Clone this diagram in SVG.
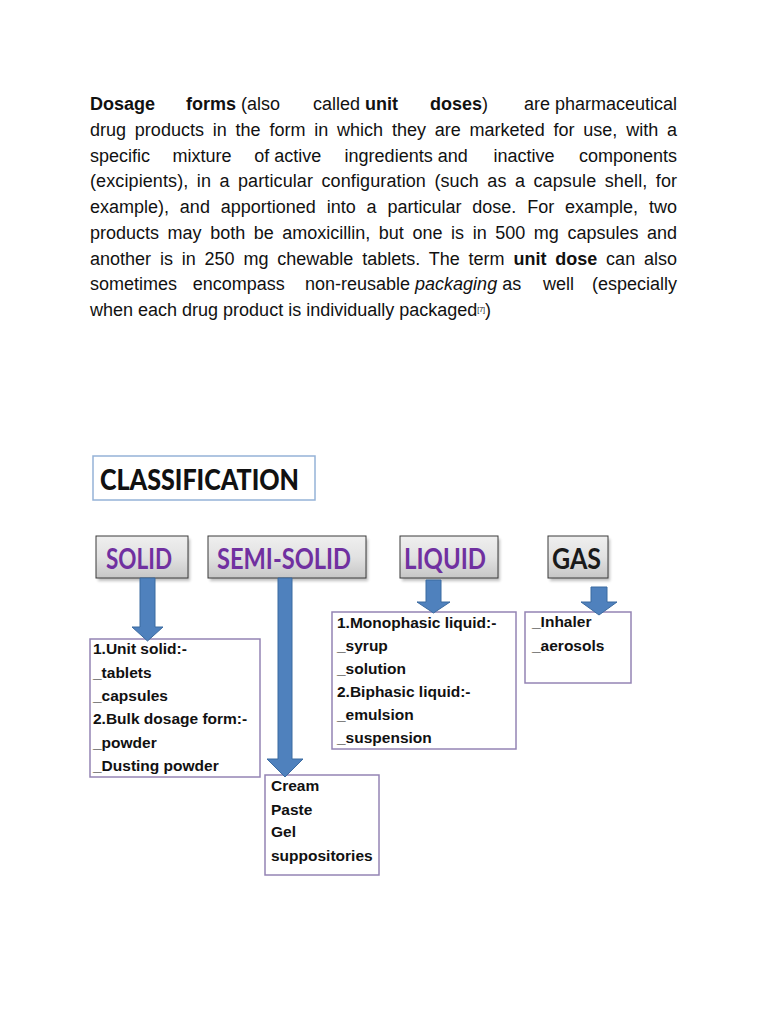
<svg xmlns="http://www.w3.org/2000/svg" width="768" height="1024" viewBox="0 0 768 1024">
<defs>
<linearGradient id="hg" x1="0" y1="0" x2="0" y2="1">
<stop offset="0" stop-color="#EFEFEF"/>
<stop offset="0.5" stop-color="#E2E2E2"/>
<stop offset="1" stop-color="#C6C6C6"/>
</linearGradient>
<filter id="sh" x="-10%" y="-10%" width="130%" height="140%">
<feGaussianBlur stdDeviation="1.5"/>
</filter>
</defs>
<style>
.p{font-family:"Liberation Sans",Arial,sans-serif;font-size:18px;fill:#111}
.b{font-weight:bold}
.i{font-style:italic}
.hdr{fill:url(#hg);stroke:#3A3A3A;stroke-width:1}
.shd{fill:#8a8a8a;opacity:0.55;filter:url(#sh)}
.ht{font-family:Lato,"Open Sans",sans-serif;font-weight:bold;font-size:28px;fill:#7030A0}
.lst{fill:#fff;stroke:#9484B4;stroke-width:1.5}
.lt{font-family:"Liberation Sans",Arial,sans-serif;font-weight:bold;font-size:15.5px;fill:#111}
.arr{fill:#4F81BD;stroke:#3B6AA0;stroke-width:1}
</style>
<rect width="768" height="1024" fill="#fff"/>
<g id="paragraph">
<text class="p" x="90" y="110"><tspan class="b">Dosage</tspan></text>
<text class="p" x="186" y="110"><tspan class="b">forms</tspan> (also</text>
<text class="p" x="313" y="110">called <tspan class="b">unit</tspan></text>
<text class="p" x="430" y="110"><tspan class="b">doses</tspan>)</text>
<text class="p" x="677" y="110" text-anchor="end">are pharmaceutical</text>
<text class="p" x="90" y="135.75" word-spacing="3.8" textLength="587" lengthAdjust="spacing">drug products in the form in which they are marketed for use, with a</text>
<text class="p" x="90" y="161.5">specific</text>
<text class="p" x="172.6" y="161.5">mixture</text>
<text class="p" x="254.3" y="161.5">of active</text>
<text class="p" x="344.6" y="161.5">ingredients and</text>
<text class="p" x="493.6" y="161.5">inactive</text>
<text class="p" x="677" y="161.5" text-anchor="end">components</text>
<text class="p" x="90" y="187.25" word-spacing="3.3" textLength="587" lengthAdjust="spacing">(excipients), in a particular configuration (such as a capsule shell, for</text>
<text class="p" x="90" y="213" word-spacing="5.9" textLength="587" lengthAdjust="spacing">example), and apportioned into a particular dose. For example, two</text>
<text class="p" x="90" y="238.75" word-spacing="3.6" textLength="587" lengthAdjust="spacing">products may both be amoxicillin, but one is in 500 mg capsules and</text>
<text class="p" x="90" y="264.5" word-spacing="3.8" textLength="587" lengthAdjust="spacing">another is in 250 mg chewable tablets. The term <tspan class="b">unit dose</tspan> can also</text>
<text class="p" x="90" y="290.25">sometimes</text>
<text class="p" x="192.8" y="290.25">encompass</text>
<text class="p" x="305" y="290.25">non-reusable <tspan class="i">packaging</tspan> as</text>
<text class="p" x="543" y="290.25">well</text>
<text class="p" x="677" y="290.25" text-anchor="end">(especially</text>
<text class="p" x="90" y="316">when each drug product is individually packaged<tspan font-size="7" dy="-4">[7]</tspan><tspan dy="4">)</tspan></text>
</g>
<g id="classification">
<rect x="93" y="456" width="222" height="44" fill="#fff" stroke="#95B3D7" stroke-width="1.5"/>
<text x="100" y="490" font-family="Lato,'Open Sans',sans-serif" font-weight="900" font-size="28" fill="#111" textLength="199" lengthAdjust="spacingAndGlyphs">CLASSIFICATION</text>
</g>
<g id="hdr-solid">
<rect class="shd" x="98" y="539" width="92" height="42"/>
<rect class="hdr" x="96" y="536" width="92" height="42"/>
<text class="ht" x="139" y="569" text-anchor="middle" textLength="66" lengthAdjust="spacingAndGlyphs">SOLID</text>
</g>
<g id="hdr-semisolid">
<rect class="shd" x="210" y="539" width="158" height="42"/>
<rect class="hdr" x="208" y="536" width="158" height="42"/>
<text class="ht" x="284" y="569" text-anchor="middle" textLength="134" lengthAdjust="spacingAndGlyphs">SEMI-SOLID</text>
</g>
<g id="hdr-liquid">
<rect class="shd" x="402" y="539" width="98" height="42"/>
<rect class="hdr" x="400" y="536" width="98" height="42"/>
<text class="ht" x="445" y="569" text-anchor="middle" textLength="82" lengthAdjust="spacingAndGlyphs">LIQUID</text>
</g>
<g id="hdr-gas">
<rect class="shd" x="550" y="539" width="60" height="42"/>
<rect class="hdr" x="548" y="536" width="60" height="42"/>
<text class="ht" x="576.5" y="569" text-anchor="middle" textLength="49" lengthAdjust="spacingAndGlyphs" fill="#1a1a1a" style="fill:#1a1a1a">GAS</text>
</g>
<g id="box-solid">
<rect class="lst" x="90" y="639" width="170" height="138"/>
<text class="lt" x="93" y="654">1.Unit solid:-</text>
<text class="lt" x="93" y="678">_tablets</text>
<text class="lt" x="93" y="701">_capsules</text>
<text class="lt" x="93" y="724">2.Bulk dosage form:-</text>
<text class="lt" x="93" y="748">_powder</text>
<text class="lt" x="93" y="771">_Dusting powder</text>
</g>
<g id="box-semisolid">
<rect class="lst" x="265" y="775" width="114" height="100"/>
<text class="lt" x="271" y="791">Cream</text>
<text class="lt" x="271" y="815">Paste</text>
<text class="lt" x="271" y="837">Gel</text>
<text class="lt" x="271" y="861">suppositories</text>
</g>
<g id="box-liquid">
<rect class="lst" x="332" y="612" width="184" height="137"/>
<text class="lt" x="337" y="628">1.Monophasic liquid:-</text>
<text class="lt" x="337" y="651">_syrup</text>
<text class="lt" x="337" y="674">_solution</text>
<text class="lt" x="337" y="697">2.Biphasic liquid:-</text>
<text class="lt" x="337" y="720">_emulsion</text>
<text class="lt" x="337" y="743">_suspension</text>
</g>
<g id="box-gas">
<rect class="lst" x="525" y="612" width="106" height="71"/>
<text class="lt" x="532" y="627">_Inhaler</text>
<text class="lt" x="532" y="651">_aerosols</text>
</g>
<g id="connectors">
<polygon class="arr" points="140,578 155,578 155,627 163,627 147.5,641 132,627 140,627"/>
<polygon class="arr" points="278,578 292,578 292,759 303,759 285,777 267,759 278,759"/>
<polygon class="arr" points="426,580 441,580 441,602 450,602 433.5,613 417,602 426,602"/>
<polygon class="arr" points="591,587 607,587 607,602 617,602 599,615 581,602 591,602"/>
</g>
</svg>
